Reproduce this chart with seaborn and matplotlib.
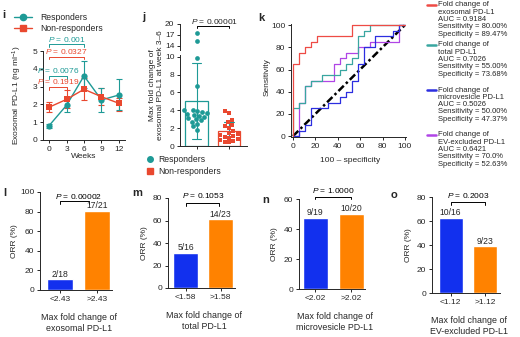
import numpy as np
import pandas as pd
import matplotlib
matplotlib.use("Agg")
import matplotlib.pyplot as plt
from matplotlib.lines import Line2D
import seaborn as sns

# ---------------- data ----------------
weeks = [0, 3, 6, 9, 12]
resp_mean = [0.8, 1.95, 3.6, 2.25, 2.53]
resp_lo = [0.7, 1.6, 2.9, 1.6, 1.69]
resp_hi = [0.9, 2.35, 4.45, 2.94, 3.45]
nonr_mean = [1.84, 2.28, 2.85, 2.43, 2.06]
nonr_lo = [1.55, 1.8, 2.25, 1.97, 1.63]
nonr_hi = [2.15, 2.8, 3.5, 2.9, 2.34]

resp_fold = [17.5, 15.4, 9.9, 6.7, 4.0, 4.0, 3.9, 3.8, 3.7, 3.6, 3.5, 3.4,
             3.3, 3.1, 3.0, 2.9, 2.7, 2.5, 2.2, 1.8]
nonr_fold = [3.9, 3.7, 2.9, 2.7, 2.4, 2.2, 2.0, 1.7, 1.5, 1.3, 1.2, 1.1,
             1.0, 0.9, 0.8, 0.7, 0.6, 0.5, 0.4]

roc_red_x = [0, 0, 5.26, 5.26, 10.5, 10.5, 15.8, 15.8, 21.1, 21.1, 52.6, 52.6, 100]
roc_red_y = [0, 65, 65, 75, 75, 80, 80, 85, 85, 90, 90, 100, 100]
roc_teal_x = [0, 0, 5.26, 5.26, 10.5, 10.5, 15.8, 15.8, 26.3, 26.3, 42.1, 42.1, 47.4,
              47.4, 52.6, 52.6, 57.9, 57.9, 63.2, 63.2, 68.4, 68.4, 100]
roc_teal_y = [0, 25, 25, 30, 30, 45, 45, 50, 50, 55, 55, 60, 60, 65, 65, 70, 70, 90,
              90, 95, 95, 100, 100]
roc_blue_x = [0, 5.26, 5.26, 10.5, 10.5, 15.8, 15.8, 31.6, 31.6, 42.1, 42.1, 47.4, 47.4,
              52.6, 52.6, 57.9, 57.9, 63.2, 63.2, 73.7, 73.7, 89.5, 89.5, 94.7, 94.7, 100]
roc_blue_y = [0, 0, 5, 5, 10, 10, 25, 25, 30, 30, 35, 35, 40, 40, 50, 50, 65, 65, 80,
              80, 90, 90, 95, 95, 100, 100]
roc_purp_x = [0, 5.26, 5.26, 10.5, 10.5, 15.8, 15.8, 36.8, 36.8, 42.1, 42.1, 47.4, 47.4,
              57.9, 57.9, 68.4, 68.4, 94.7, 94.7, 100]
roc_purp_y = [0, 0, 30, 30, 45, 45, 50, 50, 65, 65, 70, 70, 75, 75, 80, 80, 85, 85, 100, 100]
roc_labels = [
    ["Fold change of", "exosomal PD-L1", "AUC = 0.9184", "Sensitivity = 80.00%", "Specificity = 89.47%"],
    ["Fold change of", "total PD-L1", "AUC = 0.7026", "Sensitivity = 55.00%", "Specificity = 73.68%"],
    ["Fold change of", "microvesicle PD-L1", "AUC = 0.5026", "Sensitivity = 50.00%", "Specificity = 47.37%"],
    ["Fold change of", "EV-excluded PD-L1", "AUC = 0.6421", "Sensitivity = 70.0%", "Specificity = 52.63%"],
]

bar_cats = [["<2.43", ">2.43"], ["<1.58", ">1.58"], ["<2.02", ">2.02"], ["<1.12", ">1.12"]]
bar_orr = [[11.1, 81.0], [31.25, 60.9], [47.4, 50.0], [62.5, 39.1]]
bar_counts = [["2/18", "17/21"], ["5/16", "14/23"], ["9/19", "10/20"], ["10/16", "9/23"]]
bar_p = ["0.00002", "0.1053", "1.0000", "0.2003"]
bar_xlabels = ["Max fold change of\nexosomal PD-L1", "Max fold change of\ntotal PD-L1",
               "Max fold change of\nmicrovesicle PD-L1", "Max fold change of\nEV-excluded PD-L1"]

# ---------------- style ----------------
sns.set_theme(style="ticks")
plt.rcParams["font.family"] = ["Liberation Sans", "DejaVu Sans"]
plt.rcParams.update({
    "axes.linewidth": 0.7, "xtick.major.width": 0.7, "ytick.major.width": 0.7,
    "xtick.major.size": 2.5, "ytick.major.size": 2.5,
    "xtick.major.pad": 1.5, "ytick.major.pad": 1.5,
    "xtick.labelsize": 6.0, "ytick.labelsize": 6.0,
    "axes.labelsize": 6.0,
    "mathtext.fontset": "custom",
    "mathtext.it": "Liberation Sans:italic",
    "mathtext.rm": "Liberation Sans",
})

W, H = 520, 337
fig = plt.figure(figsize=(W / 100, H / 100), dpi=100)
fig.patch.set_facecolor("white")


def add_ax(l, t, r, b):
    return fig.add_axes([l / W, 1 - b / H, (r - l) / W, (b - t) / H])


def ftext(x, y, s, **kw):
    return fig.text(x / W, 1 - y / H, s, **kw)


def style_ax(ax):
    sns.despine(ax=ax)
    ax.set_facecolor("white")
    ax.set_xlabel("")
    ax.set_ylabel("")


TEAL = "#1e9a96"
RED = "#e9482f"
BLUE = "#1230ee"
ORANGE = "#ff8200"
FS = 6.0

# ---------------- panel i ----------------
ax = add_ax(43, 51, 125, 140)
df_i = pd.DataFrame({
    "week": weeks * 2,
    "value": resp_mean + nonr_mean,
    "group": ["Responders"] * 5 + ["Non-responders"] * 5,
})
for m, lo, hi, c in [(nonr_mean, nonr_lo, nonr_hi, RED), (resp_mean, resp_lo, resp_hi, TEAL)]:
    ax.errorbar(weeks, m, yerr=[np.array(m) - np.array(lo), np.array(hi) - np.array(m)],
                fmt="none", ecolor=c, elinewidth=0.8, capsize=2, capthick=0.8)
sns.lineplot(data=df_i, x="week", y="value", hue="group", style="group",
             markers={"Responders": "o", "Non-responders": "s"}, dashes=False,
             palette={"Responders": TEAL, "Non-responders": RED},
             markersize=4.5, markeredgewidth=0, linewidth=1.0, legend=False, ax=ax)
ax.set_xlim(-1.03, 13.03)
ax.set_ylim(0, 5)
ax.set_xticks(weeks)
ax.set_yticks([0, 1, 2, 3, 4, 5])
style_ax(ax)


def bracket(ax, x0, x1, y, dy, text, ty, color="black", fs=FS, tx=None):
    ax.plot([x0, x0, x1, x1], [y - dy, y, y, y - dy], color=color, lw=0.7, clip_on=False)
    ax.text((x0 + x1) / 2 if tx is None else tx, ty, r"$\it{P}$ = " + text, ha="center",
            va="center", fontsize=fs, color=color, clip_on=False)


bracket(ax, 0, 6, 5.37, 0.15, "0.001", 5.64, TEAL)
bracket(ax, 0, 6, 4.68, 0.15, "0.0327", 4.96, RED)
bracket(ax, 0, 3, 3.6, 0.15, "0.0076", 3.93, TEAL)
bracket(ax, 0, 3, 2.96, 0.15, "0.1919", 3.28, RED)
ftext(17, 95, "Exosomal PD-L1 (ng ml$^{-1}$)", rotation=90, ha="center", va="center", fontsize=FS)
ftext(84, 157, "Weeks", ha="center", va="center", fontsize=FS)
leg_handles = [Line2D([], [], color=TEAL, marker="o", markersize=4.5, lw=1.0),
               Line2D([], [], color=RED, marker="s", markersize=4.5, lw=1.0)]
fig.legend(leg_handles, ["Responders", "Non-responders"], loc="upper left",
           bbox_to_anchor=(11 / W, 1 - 10 / H), frameon=False, fontsize=6.2,
           handlelength=2.0, handletextpad=1.0, labelspacing=0.2, borderaxespad=0)

# ---------------- panel j ----------------
df_j = pd.DataFrame({
    "group": ["Responders"] * len(resp_fold) + ["Non-responders"] * len(nonr_fold),
    "fold": resp_fold + nonr_fold,
})
order_j = ["Responders", "Non-responders"]
pal_j = {"Responders": TEAL, "Non-responders": RED}
ax_lo = add_ax(180, 55, 247, 146)
ax_hi = add_ax(180, 24, 247, 50)
for a in (ax_lo, ax_hi):
    sns.barplot(data=df_j, x="group", y="fold", hue="group", order=order_j, palette=pal_j,
                errorbar="sd", fill=False, width=0.7, linewidth=0.9,
                capsize=0.3, err_kws={"linewidth": 0.8}, legend=False, ax=a)
    for patch, c in zip(a.patches, [TEAL, RED]):
        patch.set_edgecolor(c)
    for ln, c in zip(a.lines, [TEAL] * 3 + [RED] * 3):
        ln.set_color(c)
    sns.swarmplot(data=df_j[df_j["group"] == "Responders"], x="group", y="fold",
                  order=order_j, color=TEAL, marker="o", size=3.4, linewidth=0, ax=a)
    sns.swarmplot(data=df_j[df_j["group"] == "Non-responders"], x="group", y="fold",
                  order=order_j, color=RED, marker="s", size=3.2, linewidth=0, ax=a)
    a.set_xlim(-0.51, 1.55)
    style_ax(a)
ax_lo.set_ylim(0, 10.2)
ax_lo.set_yticks([0, 2, 4, 6, 8, 10])
ax_lo.set_xticks([0, 1])
ax_lo.set_xticklabels([])
ax_hi.set_ylim(12.9, 20)
ax_hi.set_yticks([14, 17, 20])
ax_hi.spines["bottom"].set_visible(False)
ax_hi.set_xticks([])
ax_hi.plot([0, 0, 1, 1], [18.9, 19.4, 19.4, 18.9], color="black", lw=0.7, clip_on=False)
ax_hi.text(0.55, 20.8, r"$\it{P}$ = 0.00001", ha="center", va="center", fontsize=FS, clip_on=False)
ftext(152, 85, "Max fold change of", rotation=90, ha="center", va="center", fontsize=FS)
ftext(160.5, 85, "exosomal PD-L1 at week 3–6", rotation=90, ha="center", va="center", fontsize=FS)
leg_j = [Line2D([], [], color=TEAL, marker="o", markersize=4, lw=0),
         Line2D([], [], color=RED, marker="s", markersize=4, lw=0)]
fig.legend(leg_j, ["Responders", "Non-responders"], loc="upper left",
           bbox_to_anchor=(142 / W, 1 - 152 / H), frameon=False, fontsize=6.2,
           handlelength=1.0, handletextpad=0.5, labelspacing=0.3, borderaxespad=0)

# ---------------- panel k ----------------
ax = add_ax(291, 24, 406, 137)
sns.lineplot(x=[0, 100], y=[0, 100], color="black", lw=1.8,
             linestyle=(0, (3.0, 1.2, 1.0, 1.2)), ax=ax)
roc_cols = ["#ee4b45", "#39a6a0", "#2c2ee0", "#b045e6"]
for xs, ys, c in [(roc_purp_x, roc_purp_y, roc_cols[3]), (roc_blue_x, roc_blue_y, roc_cols[2]),
                  (roc_teal_x, roc_teal_y, roc_cols[1]), (roc_red_x, roc_red_y, roc_cols[0])]:
    sns.lineplot(x=xs, y=ys, sort=False, estimator=None, color=c, lw=0.9, ax=ax)
ax.set_xlim(-1.8, 101)
ax.set_ylim(-0.8, 101)
ax.set_xticks([0, 20, 40, 60, 80, 100])
ax.set_yticks([0, 20, 40, 60, 80, 100])
style_ax(ax)
ftext(267, 77, "Sensitivity", rotation=90, ha="center", va="center", fontsize=FS)
ftext(350, 161, "100 – specificity", ha="center", va="center", fontsize=FS)
leg_tops = [5, 45, 90, 135]
for lines, c, yc in zip(roc_labels, roc_cols, leg_tops):
    fig.add_artist(Line2D([427 / W, 436 / W], [1 - yc / H, 1 - yc / H], color=c, lw=1.8))
    for j, s in enumerate(lines):
        ftext(438, yc + j * 7.3, s, ha="left", va="center", fontsize=5.5)

# ---------------- panels l-o ----------------
bar_boxes = [(40, 192, 112, 290), (168, 198, 235, 288), (299, 199, 365, 289), (432, 197, 500, 293)]
bar_ylim = [100, 80, 60, 80]
bar_xlim = [(-0.54, 1.41), (-0.5, 1.41), (-0.46, 1.39), (-0.54, 1.43)]
bar_bracket = [(90.5, 95.8), (75.5, 82), (61.5, 65.8), (76, 81.5)]
bar_bracket_x1 = [0.8, 0.95, 1.0, 1.0]
ylab_x = [15, 145, 275, 408]
for i in range(4):
    l, t, r, b = bar_boxes[i]
    ax = add_ax(l, t, r, b)
    sns.barplot(x=bar_cats[i], y=bar_orr[i], hue=bar_cats[i], palette=[BLUE, ORANGE],
                width=0.7, saturation=1, legend=False, ax=ax)
    ax.set_ylim(0, bar_ylim[i])
    ax.set_yticks(np.arange(0, bar_ylim[i] + 1, 20))
    ax.set_xlim(*bar_xlim[i])
    style_ax(ax)
    for k in range(2):
        ax.text(k, bar_orr[i][k] + bar_ylim[i] * 0.006, bar_counts[i][k], ha="center",
                va="bottom", fontsize=6.2)
    by, ty = bar_bracket[i]
    d = bar_ylim[i] * 0.03
    x1 = bar_bracket_x1[i]
    bracket(ax, 0, x1, by, d, bar_p[i], ty, tx=0.5)
    ftext(ylab_x[i], (t + b) / 2, "ORR (%)", rotation=90, ha="center", va="center", fontsize=FS)
    ftext((l + r) / 2 + 3, b + 33, bar_xlabels[i], ha="center", va="center", fontsize=6.4,
          linespacing=1.2)

# ---------------- panel letters ----------------
for s, x, y in [("i", 4, 15), ("j", 144, 17), ("k", 261, 18), ("l", 5, 193),
                ("m", 137, 193), ("n", 266, 200), ("o", 394, 195)]:
    ftext(x, y, s, fontsize=8, fontweight="bold", ha="center", va="center")

fig.savefig("out.png", dpi=100, facecolor="white")
